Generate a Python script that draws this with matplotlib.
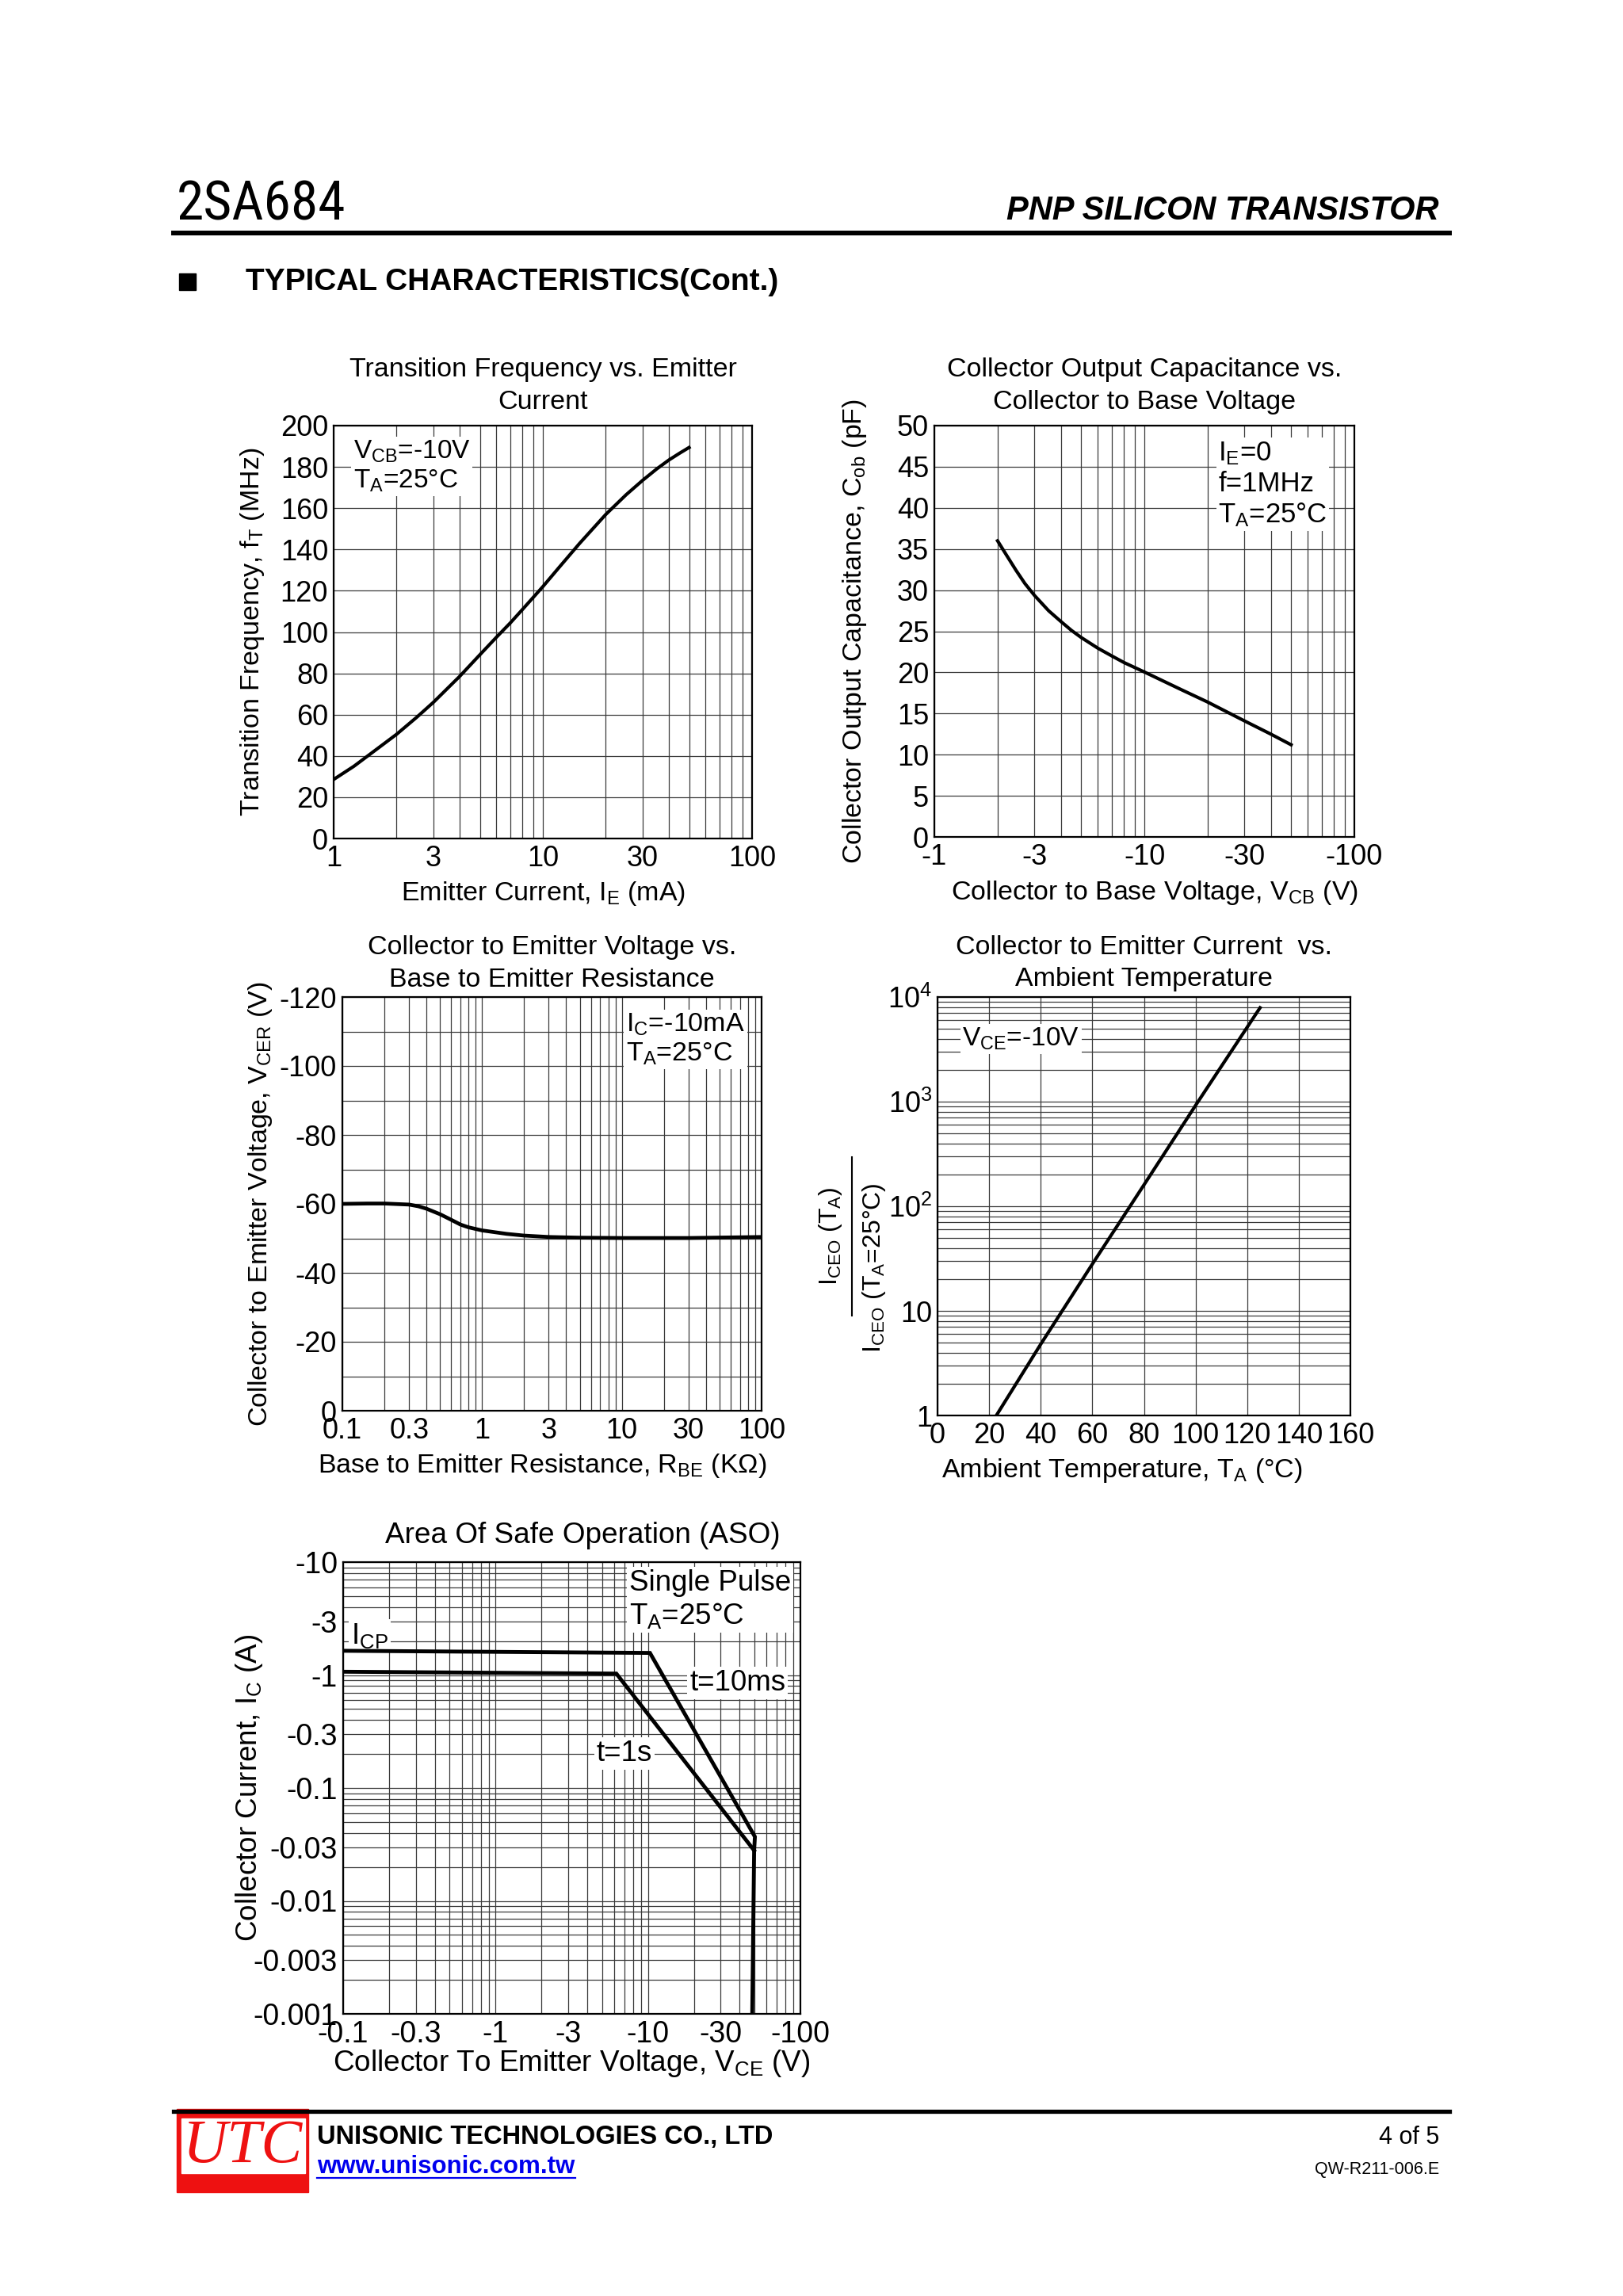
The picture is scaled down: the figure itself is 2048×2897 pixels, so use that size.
import matplotlib
matplotlib.use("Agg")
import matplotlib.pyplot as plt
import numpy as np
from matplotlib import font_manager
from matplotlib.patches import Rectangle
from matplotlib.lines import Line2D
from matplotlib.ticker import LogLocator, NullFormatter, MultipleLocator

plt.rcParams['font.family'] = ['Liberation Sans', 'DejaVu Sans']
plt.rcParams['mathtext.default'] = 'regular'

W, H = 2048, 2897

### Daten (aus dem Datenblatt abgelesen)
# fT vs IE
ie_ma = [1, 1.25, 1.5, 2, 2.5, 3, 4, 5, 6, 7, 8, 10, 12, 15, 20, 25, 30, 35, 40, 45, 50]
ft_mhz = [28.6, 35, 41, 50.5, 58.8, 66, 78.5, 89, 97.5, 104.5, 111, 122, 131.5, 143, 157,
          166.5, 173.5, 179, 183.3, 186.6, 189.4]
x1_ticks = [1, 3, 10, 30, 100]
x1_labels = ['1', '3', '10', '30', '100']

# Cob vs VCB (Betrag von VCB)
vcb = [2, 2.2, 2.45, 2.7, 3, 3.5, 4, 4.5, 5, 6, 7, 8, 10, 15, 20, 30, 40, 50]
cob = [36, 34.3, 32.4, 30.8, 29.35, 27.5, 26.2, 25.1, 24.25, 22.95, 22.0, 21.2, 20.05,
       17.9, 16.4, 14.1, 12.5, 11.2]
x2_ticks = [1, 3, 10, 30, 100]
x2_labels = ['-1', '-3', '-10', '-30', '-100']

# VCER vs RBE (Betrag von VCER)
rbe = [0.1, 0.15, 0.2, 0.3, 0.35, 0.4, 0.5, 0.6, 0.7, 0.8, 1, 1.5, 2, 3, 5, 10, 30, 100]
vcer = [60, 60.1, 60.1, 59.8, 59.3, 58.6, 57, 55.4, 54.0, 53.2, 52.3, 51.3, 50.8, 50.4,
        50.2, 50.1, 50.1, 50.4]
x3_ticks = [0.1, 0.3, 1, 3, 10, 30, 100]
x3_labels = ['0.1', '0.3', '1', '3', '10', '30', '100']
y3_ticks = [0, 20, 40, 60, 80, 100, 120]
y3_labels = ['0', '-20', '-40', '-60', '-80', '-100', '-120']

# ICEO(TA)/ICEO(25C) vs TA
ta = [22.8, 40, 60, 80, 100, 125]
iceo_ratio = [1, 4.8, 28, 160, 920, 7900]
y4_ticks = [1, 10, 100, 1000, 10000]
y4_labels = ['1', '10', '10$^{2}$', '10$^{3}$', '10$^{4}$']

# ASO (Betraege)
vce_10ms = [0.1, 10.3, 50.3, 49.7, 48.3]
ic_10ms = [1.64, 1.57, 0.037, 0.028, 0.001]
vce_1s = [0.1, 6.2, 49.7]
ic_1s = [1.07, 1.03, 0.028]
x5_ticks = [0.1, 0.3, 1, 3, 10, 30, 100]
x5_labels = ['-0.1', '-0.3', '-1', '-3', '-10', '-30', '-100']
y5_ticks = [0.001, 0.003, 0.01, 0.03, 0.1, 0.3, 1, 3, 10]
y5_labels = ['-0.001', '-0.003', '-0.01', '-0.03', '-0.1', '-0.3', '-1', '-3', '-10']

TICK_FS = 26
LAB_FS = 24.5
BOX = dict(facecolor='white', edgecolor='none', pad=2)

fig = plt.figure(figsize=(W / 100, H / 100), dpi=100)


def make_ax(l, t, r, b, tfs=TICK_FS):
    ax = fig.add_axes([l / W, 1 - b / H, (r - l) / W, (b - t) / H])
    for s in ax.spines.values():
        s.set_linewidth(1.6)
    ax.tick_params(which='both', length=0, labelsize=tfs)
    ax.tick_params(axis='x', pad=6)
    ax.tick_params(axis='y', pad=5)
    ax.set_axisbelow(True)
    return ax


def log_minor(axis):
    axis.set_minor_locator(LogLocator(base=10, subs=np.arange(2, 10), numticks=50))
    axis.set_minor_formatter(NullFormatter())


def labels(ax, title, ty, xl, xly, yl, ylx, tx=0.5, xlx=0.5, fs=LAB_FS):
    ax.set_title(title, y=ty, x=tx, va='center', fontsize=fs, linespacing=1.4)
    ax.set_xlabel(xl, fontsize=fs, va='center')
    ax.xaxis.set_label_coords(xlx, xly)
    if yl:
        ax.set_ylabel(yl, fontsize=fs, va='center')
        ax.yaxis.set_label_coords(ylx, 0.5)


def grid(ax):
    ax.grid(which='both', color='#3a3a3a', lw=0.9)


### Chart 1
ax1 = make_ax(421, 537, 949, 1058)
ax1.set_xscale('log')
ax1.plot(ie_ma, ft_mhz, color='black', lw=3.0, zorder=3)
ax1.set_xlim(1, 100)
ax1.set_ylim(0, 200)
ax1.set_xticks(x1_ticks, x1_labels)
log_minor(ax1.xaxis)
ax1.yaxis.set_major_locator(MultipleLocator(20))
grid(ax1)
ax1.text(0.047, 0.968, 'V$_{CB}$=-10V\nT$_{A}$=25°C', transform=ax1.transAxes,
         va='top', ha='left', fontsize=24, bbox=BOX, zorder=2)
labels(ax1, 'Transition Frequency vs. Emitter\nCurrent', 1.08,
       'Emitter Current, I$_{E}$ (mA)', -0.133,
       'Transition Frequency, f$_{T}$ (MHz)', -0.195)

### Chart 2
ax2 = make_ax(1179, 537, 1709, 1056)
ax2.set_xscale('log')
ax2.plot(vcb, cob, color='black', lw=3.0, zorder=3)
ax2.set_xlim(1, 100)
ax2.set_ylim(0, 50)
ax2.set_xticks(x2_ticks, x2_labels)
log_minor(ax2.xaxis)
ax2.yaxis.set_major_locator(MultipleLocator(5))
grid(ax2)
ax2.text(0.676, 0.965, 'I$_{E}$=0\nf=1MHz\nT$_{A}$=25°C', transform=ax2.transAxes,
         va='top', ha='left', fontsize=25, bbox=BOX, zorder=2)
labels(ax2, 'Collector Output Capacitance vs.\nCollector to Base Voltage', 1.08,
       'Collector to Base Voltage, V$_{CB}$ (V)', -0.135,
       'Collector Output Capacitance, C$_{ob}$ (pF)', -0.189, xlx=0.525)

### Chart 3
ax3 = make_ax(432, 1258, 961, 1780)
ax3.set_xscale('log')
ax3.plot(rbe, vcer, color='black', lw=3.4, zorder=3)
ax3.set_xlim(0.1, 100)
ax3.set_ylim(0, 120)
ax3.set_xticks(x3_ticks, x3_labels)
log_minor(ax3.xaxis)
ax3.set_yticks(y3_ticks, y3_labels)
ax3.yaxis.set_minor_locator(MultipleLocator(10))
grid(ax3)
ax3.text(0.677, 0.965, 'I$_{C}$=-10mA\nT$_{A}$=25°C', transform=ax3.transAxes,
         va='top', ha='left', fontsize=24.5, bbox=BOX, zorder=2)
labels(ax3, 'Collector to Emitter Voltage vs.\nBase to Emitter Resistance', 1.065,
       'Base to Emitter Resistance, R$_{BE}$ (KΩ)', -0.134,
       'Collector to Emitter Voltage, V$_{CER}$ (V)', -0.195, xlx=0.476)

### Chart 4
ax4 = make_ax(1183, 1258, 1704, 1786)
ax4.set_yscale('log')
ax4.plot(ta, iceo_ratio, color='black', lw=3.0, zorder=3)
ax4.set_xlim(0, 160)
ax4.set_ylim(1, 10000)
ax4.xaxis.set_major_locator(MultipleLocator(20))
ax4.set_yticks(y4_ticks, y4_labels)
log_minor(ax4.yaxis)
grid(ax4)
ax4.text(0.06, 0.9, 'V$_{CE}$=-10V', transform=ax4.transAxes,
         va='center', ha='left', fontsize=24, bbox=BOX, zorder=2)
labels(ax4, 'Collector to Emitter Current  vs.\nAmbient Temperature', 1.065,
       'Ambient Temperature, T$_{A}$ (°C)', -0.131, None, 0, xlx=0.447)
# Bruch als y-Beschriftung
fig.text(1048 / W, 1 - 1560 / H, 'I$_{CEO}$ (T$_{A}$)', rotation=90,
         ha='center', va='center', fontsize=23)
fig.text(1103 / W, 1 - 1600 / H, 'I$_{CEO}$ (T$_{A}$=25°C)', rotation=90,
         ha='center', va='center', fontsize=23)
fig.add_artist(Line2D([1075 / W, 1075 / W], [1 - 1460 / H, 1 - 1660 / H],
                      color='black', lw=1.5, transform=fig.transFigure))

### Chart 5
ax5 = make_ax(433, 1971, 1010, 2541, tfs=27)
ax5.set_xscale('log')
ax5.set_yscale('log')
ax5.plot(vce_10ms, ic_10ms, color='black', lw=3.5, zorder=3, solid_joinstyle='miter')
ax5.plot(vce_1s, ic_1s, color='black', lw=3.5, zorder=3, solid_joinstyle='miter')
ax5.set_xlim(0.1, 100)
ax5.set_ylim(0.001, 10)
ax5.set_xticks(x5_ticks, x5_labels)
ax5.set_yticks(y5_ticks, y5_labels)
log_minor(ax5.xaxis)
log_minor(ax5.yaxis)
grid(ax5)
ax5.text(0.625, 0.985, 'Single Pulse\nT$_{A}$=25°C', transform=ax5.transAxes,
         va='top', ha='left', fontsize=26.5, bbox=BOX, zorder=2)
ax5.text(0.017, 0.82, 'I$_{CP}$', transform=ax5.transAxes,
         va='baseline', ha='left', fontsize=26.5, bbox=BOX, zorder=2)
ax5.text(0.758, 0.732, 't=10ms', transform=ax5.transAxes,
         va='center', ha='left', fontsize=26.5, bbox=BOX, zorder=2)
ax5.text(0.554, 0.576, 't=1s', transform=ax5.transAxes,
         va='center', ha='left', fontsize=26.5, bbox=BOX, zorder=2)
labels(ax5, 'Area Of Safe Operation (ASO)', 1.044,
       'Collector To Emitter Voltage, V$_{CE}$ (V)', -0.109,
       'Collector Current, I$_{C}$ (A)', -0.206, tx=0.523, fs=26.6)

### Kopfzeile
# schmale Schrift, falls vorhanden
names = {f.name for f in font_manager.fontManager.ttflist}
narrow = None
for n in ['Liberation Sans Narrow', 'Roboto Condensed', 'Open Sans Condensed',
          'DejaVu Sans Condensed']:
    if n in names:
        narrow = n
        break
if narrow:
    fig.text(223 / W, 1 - 277 / H, '2SA684', fontsize=50, family=narrow, va='baseline')
else:
    fig.text(223 / W, 1 - 277 / H, '2SA684', fontsize=42, va='baseline')
fig.text(1816 / W, 1 - 277 / H, 'PNP SILICON TRANSISTOR', fontsize=30,
         weight='bold', style='italic', ha='right', va='baseline')
fig.add_artist(Line2D([219 / W, 1829 / W], [1 - 293.5 / H] * 2, color='black', lw=4.3,
                      transform=fig.transFigure))
fig.add_artist(Rectangle((226 / W, 1 - 366 / H), 21 / W, 21 / H, color='black',
                         transform=fig.transFigure))
fig.text(310 / W, 1 - 366 / H, 'TYPICAL CHARACTERISTICS(Cont.)', fontsize=28,
         weight='bold', va='baseline')

### Fusszeile
fig.add_artist(Line2D([219 / W, 1829 / W], [1 - 2664 / H] * 2, color='black', lw=3.8,
                      transform=fig.transFigure))
fig.add_artist(Rectangle((223 / W, 1 - 2766 / H), 166 / W, 105 / H, color='#ee1111',
                         transform=fig.transFigure))
fig.add_artist(Rectangle((229 / W, 1 - 2742 / H), 156 / W, 69 / H, color='white',
                         transform=fig.transFigure))
fig.text(306 / W, 1 - 2709 / H, 'UTC', fontsize=56, family='Liberation Serif',
         style='italic', color='#ee1111', ha='center', va='center')
fig.text(400 / W, 1 - 2705 / H, 'UNISONIC TECHNOLOGIES CO., LTD', fontsize=23.5,
         weight='bold', va='baseline')
fig.text(400 / W, 1 - 2742 / H, 'www.unisonic.com.tw', fontsize=22.5,
         weight='bold', color='#0000ee', va='baseline')
fig.add_artist(Line2D([400 / W, 726 / W], [1 - 2748 / H] * 2, color='#0000ee', lw=1.6,
                      transform=fig.transFigure))
fig.text(1816 / W, 1 - 2705 / H, '4 of 5', fontsize=22, ha='right', va='baseline')
fig.text(1816 / W, 1 - 2743 / H, 'QW-R211-006.E', fontsize=15.5, ha='right', va='baseline')

fig.savefig('out.png', dpi=100)
